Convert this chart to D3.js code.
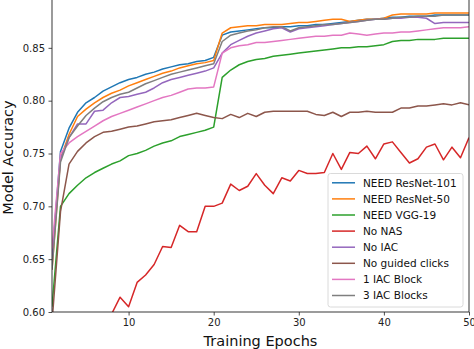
<!DOCTYPE html>
<html><head><meta charset="utf-8">
<script src="https://cdn.jsdelivr.net/npm/d3@7"></script>
<style>body{margin:0;background:#fff}svg{display:block;font-family:"DejaVu Sans",sans-serif}</style>
</head><body><svg id="c" width="474" height="349"></svg>
<script>
const epochs = d3.range(1, 51);
const seriesNames = ["NEED ResNet-101","NEED ResNet-50","NEED VGG-19","No NAS","No IAC","No guided clicks","1 IAC Block","3 IAC Blocks"];
const colors = ["#1f77b4","#ff7f0e","#2ca02c","#d62728","#9467bd","#8c564b","#e377c2","#7f7f7f"];
const resnet101 = [0.65,0.752,0.774,0.789,0.798,0.803,0.809,0.813,0.817,0.820,0.822,0.825,0.827,0.830,0.832,0.834,0.835,0.837,0.838,0.841,0.862,0.865,0.866,0.867,0.868,0.869,0.869,0.870,0.870,0.871,0.871,0.872,0.872,0.873,0.874,0.875,0.876,0.877,0.877,0.878,0.879,0.879,0.880,0.880,0.880,0.881,0.881,0.881,0.881,0.881];
const resnet50 = [0.64,0.745,0.768,0.785,0.792,0.798,0.803,0.807,0.810,0.814,0.817,0.820,0.823,0.826,0.828,0.831,0.833,0.835,0.836,0.838,0.864,0.869,0.870,0.871,0.871,0.872,0.872,0.872,0.873,0.874,0.874,0.875,0.876,0.877,0.877,0.875,0.876,0.877,0.877,0.878,0.881,0.882,0.882,0.882,0.882,0.883,0.883,0.883,0.883,0.883];
const vgg19 = [0.605,0.700,0.712,0.720,0.727,0.732,0.736,0.740,0.743,0.748,0.750,0.753,0.757,0.760,0.762,0.766,0.768,0.770,0.772,0.775,0.822,0.829,0.834,0.837,0.839,0.840,0.842,0.843,0.844,0.845,0.846,0.847,0.848,0.849,0.850,0.850,0.851,0.851,0.852,0.853,0.856,0.857,0.857,0.858,0.858,0.858,0.859,0.859,0.859,0.859];
const noNAS = [0.45,0.48,0.51,0.53,0.55,0.57,0.585,0.598,0.614,0.605,0.628,0.635,0.645,0.662,0.661,0.682,0.676,0.676,0.700,0.700,0.703,0.721,0.715,0.719,0.731,0.720,0.712,0.727,0.724,0.734,0.731,0.731,0.732,0.750,0.735,0.751,0.750,0.757,0.745,0.759,0.761,0.751,0.741,0.745,0.756,0.759,0.744,0.756,0.746,0.765];
const noIAC = [0.65,0.745,0.765,0.778,0.778,0.790,0.791,0.798,0.803,0.804,0.806,0.808,0.812,0.817,0.820,0.822,0.824,0.826,0.828,0.831,0.845,0.853,0.857,0.861,0.864,0.866,0.868,0.869,0.865,0.868,0.869,0.870,0.871,0.872,0.873,0.874,0.875,0.876,0.877,0.877,0.878,0.878,0.879,0.879,0.878,0.873,0.874,0.874,0.874,0.874];
const noGuided = [0.59,0.695,0.740,0.752,0.760,0.766,0.770,0.771,0.773,0.775,0.776,0.778,0.780,0.781,0.782,0.784,0.786,0.788,0.786,0.784,0.783,0.787,0.784,0.788,0.785,0.789,0.790,0.790,0.790,0.790,0.790,0.787,0.786,0.789,0.785,0.789,0.789,0.790,0.789,0.789,0.789,0.793,0.793,0.795,0.795,0.796,0.797,0.796,0.798,0.796];
const iac1 = [0.66,0.750,0.760,0.766,0.771,0.776,0.781,0.785,0.788,0.791,0.794,0.797,0.800,0.803,0.805,0.808,0.811,0.812,0.812,0.813,0.845,0.850,0.852,0.853,0.855,0.855,0.856,0.857,0.858,0.859,0.860,0.861,0.861,0.862,0.862,0.864,0.863,0.862,0.863,0.864,0.864,0.865,0.865,0.866,0.867,0.868,0.869,0.869,0.869,0.870];
const iac3 = [0.64,0.742,0.765,0.776,0.786,0.793,0.799,0.803,0.806,0.808,0.812,0.816,0.819,0.822,0.825,0.827,0.829,0.831,0.833,0.835,0.856,0.862,0.864,0.866,0.867,0.869,0.870,0.870,0.866,0.869,0.870,0.871,0.872,0.872,0.873,0.874,0.875,0.876,0.877,0.877,0.878,0.879,0.879,0.880,0.880,0.880,0.881,0.881,0.881,0.881];
const allSeries = [resnet101,resnet50,vgg19,noNAS,noIAC,noGuided,iac1,iac3];
const xTicks = [10,20,30,40,50];
const yTicks = [0.60,0.65,0.70,0.75,0.80,0.85];

const svg = d3.select("#c");
const L = 52, R = 469, T = -5, B = 312;
const x = d3.scaleLinear().domain([1,50]).range([L,R]);
const y = d3.scaleLinear().domain([0.6,0.9]).range([B,T]);

svg.append("defs").append("clipPath").attr("id","clip").append("rect")
  .attr("x",L).attr("y",T).attr("width",R-L).attr("height",B-T);

const line = d3.line().x((d,i)=>x(epochs[i])).y(d=>y(d));
const g = svg.append("g").attr("clip-path","url(#clip)");
allSeries.forEach((s,k)=>{
  g.append("path").datum(s).attr("d",line).attr("fill","none")
   .attr("stroke",colors[k]).attr("stroke-width",1.5).attr("stroke-linejoin","round");
});

const xa = svg.append("g").attr("transform",`translate(0,${B})`)
  .call(d3.axisBottom(x).tickValues(xTicks).tickSize(3.5).tickPadding(3.5).tickFormat(d3.format("d")));
const ya = svg.append("g").attr("transform",`translate(${L},0)`)
  .call(d3.axisLeft(y).tickValues(yTicks).tickSize(3.5).tickPadding(3.5).tickFormat(d3.format(".2f")));
[xa,ya].forEach(a=>{
  a.selectAll("text").attr("font-size",10).attr("font-family","DejaVu Sans").attr("fill","#222");
  a.selectAll("line").attr("stroke","#222").attr("stroke-width",0.8);
  a.select(".domain").remove();
});
svg.append("rect").attr("x",L).attr("y",T).attr("width",R-L).attr("height",B-T)
  .attr("fill","none").attr("stroke","#222").attr("stroke-width",0.9);

svg.append("text").attr("x",(L+R)/2).attr("y",346).attr("text-anchor","middle")
  .attr("font-size",14.5).attr("fill","#111").text("Training Epochs");
svg.append("text").attr("transform",`translate(13,${(B+T)/2+4}) rotate(-90)`).attr("text-anchor","middle")
  .attr("font-size",14.5).attr("fill","#111").text("Model Accuracy");

const lg = svg.append("g");
lg.append("rect").attr("x",328).attr("y",173.5).attr("width",135).attr("height",133.5).attr("rx",2.5)
  .attr("fill","#fff").attr("fill-opacity",0.85).attr("stroke","#d0d0d0").attr("stroke-width",0.8);
seriesNames.forEach((n,k)=>{
  const yy = 182.8 + k*16.1;
  lg.append("line").attr("x1",332).attr("x2",355).attr("y1",yy).attr("y2",yy)
    .attr("stroke",colors[k]).attr("stroke-width",1.5);
  lg.append("text").attr("x",363).attr("y",yy).attr("dy","0.36em").attr("font-size",10.5)
    .attr("fill","#111").text(n);
});
</script></body></html>
